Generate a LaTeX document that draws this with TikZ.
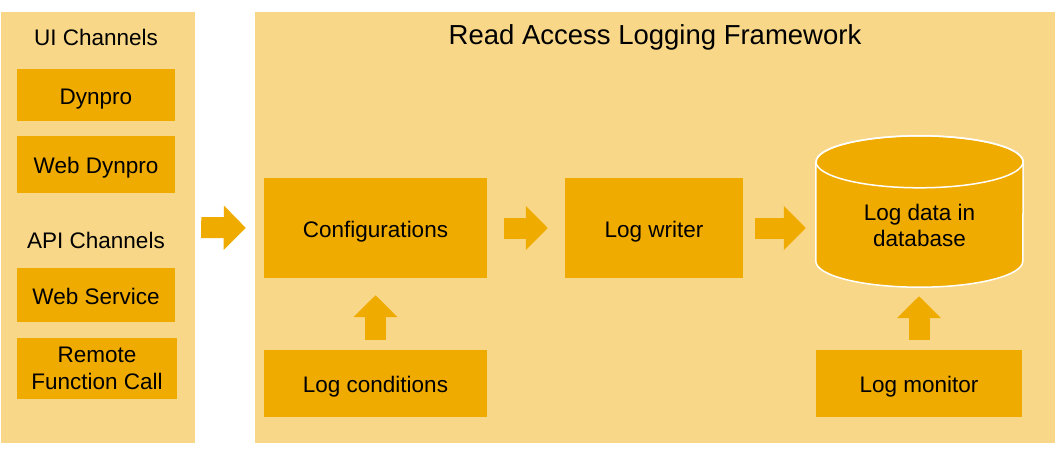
\documentclass[tikz,border=0pt]{standalone}
\usepackage{fontspec}
\setmainfont{Liberation Sans}
\usetikzlibrary{arrows.meta}
\definecolor{panelgold}{RGB}{248,215,136}
\definecolor{boxgold}{RGB}{240,171,0}
\begin{document}
\begin{tikzpicture}[x=1pt,y=-1pt,
    panel/.style={fill=panelgold, inner sep=0pt},
    goldbox/.style={fill=boxgold, inner sep=0pt, align=center, text height=18pt, text depth=0pt, font=\fontsize{22.5}{27}\selectfont},
    label/.style={font=\fontsize{22.5}{27}\selectfont},
    blockarrow/.style={draw=boxgold, line width=21pt, -{Triangle[length=22pt,width=43pt]}}]
        \useasboundingbox (0,0) rectangle (1061,451) ;
        % panels
        \node[panel, minimum width=194pt, minimum height=431pt] (chan) at (98,227.5) {} ;
        \node[panel, minimum width=800pt, minimum height=431pt] (rlf) at (655,227.5) {} ;
        \node[font=\fontsize{27.5}{33}\selectfont] (title) at (655,37.5) {Read Access Logging Framework} ;
        % channels
        \node[label] (uich) at (96,37) {UI Channels} ;
        \node[goldbox, minimum width=158pt, minimum height=52pt] (dynpro) at (96,95) {Dynpro} ;
        \node[goldbox, minimum width=158pt, minimum height=57pt] (webdyn) at (96,164.5) {Web Dynpro} ;
        \node[label] (apich) at (96,240) {API Channels} ;
        \node[goldbox, minimum width=158pt, minimum height=54pt] (websvc) at (96,295) {Web Service} ;
        \node[fill=boxgold, inner sep=0pt, align=center, font=\fontsize{22.5}{27}\selectfont,
            minimum width=160pt, minimum height=61pt] (rfc) at (97,368.5) {Remote\\Function Call} ;
        % framework
        \node[goldbox, minimum width=223pt, minimum height=100pt] (conf) at (375.5,228) {Configurations} ;
        \node[goldbox, minimum width=178pt, minimum height=100pt] (writer) at (654,228) {Log writer} ;
        \node[goldbox, minimum width=223pt, minimum height=67pt] (cond) at (375.5,383.5) {Log conditions} ;
        \node[goldbox, minimum width=206pt, minimum height=67pt] (monitor) at (919,383.5) {Log monitor} ;
        % database
        \node[inner sep=0pt, minimum width=207pt, minimum height=151pt] (db) at (919.5,211.5) {} ;
        \draw[white, line width=1.5pt, fill=boxgold] ([yshift=-26pt]db.north west) -- ([yshift=26pt]db.south west)
            arc[start angle=180, end angle=360, x radius=103.5pt, y radius=26pt] -- ([yshift=-26pt]db.north east)
            arc[start angle=0, end angle=180, x radius=103.5pt, y radius=26pt] -- cycle ;
        \draw[white, line width=1.5pt] ([yshift=-26pt]db.north) ellipse[x radius=103.5pt, y radius=26pt] ;
        \node[align=center, font=\fontsize{22.5}{26}\selectfont] (dbtext) at (919.5,225) {Log data in\\database} ;
        % arrows
        \draw[blockarrow, shorten <=6pt, shorten >=18pt] (chan.east) -- (conf.west) ;
        \draw[blockarrow, shorten <=17pt, shorten >=17pt] (conf) -- (writer) ;
        \draw[blockarrow, shorten <=12pt, shorten >=10pt] (writer.east) -- (writer.east -| db.west) ;
        \draw[blockarrow, shorten <=10pt, shorten >=17pt] (cond) -- (conf) ;
        \draw[blockarrow, shorten <=10pt, shorten >=9pt] (monitor.north) -- (monitor.north |- db.south) ;
\end{tikzpicture}
\end{document}
